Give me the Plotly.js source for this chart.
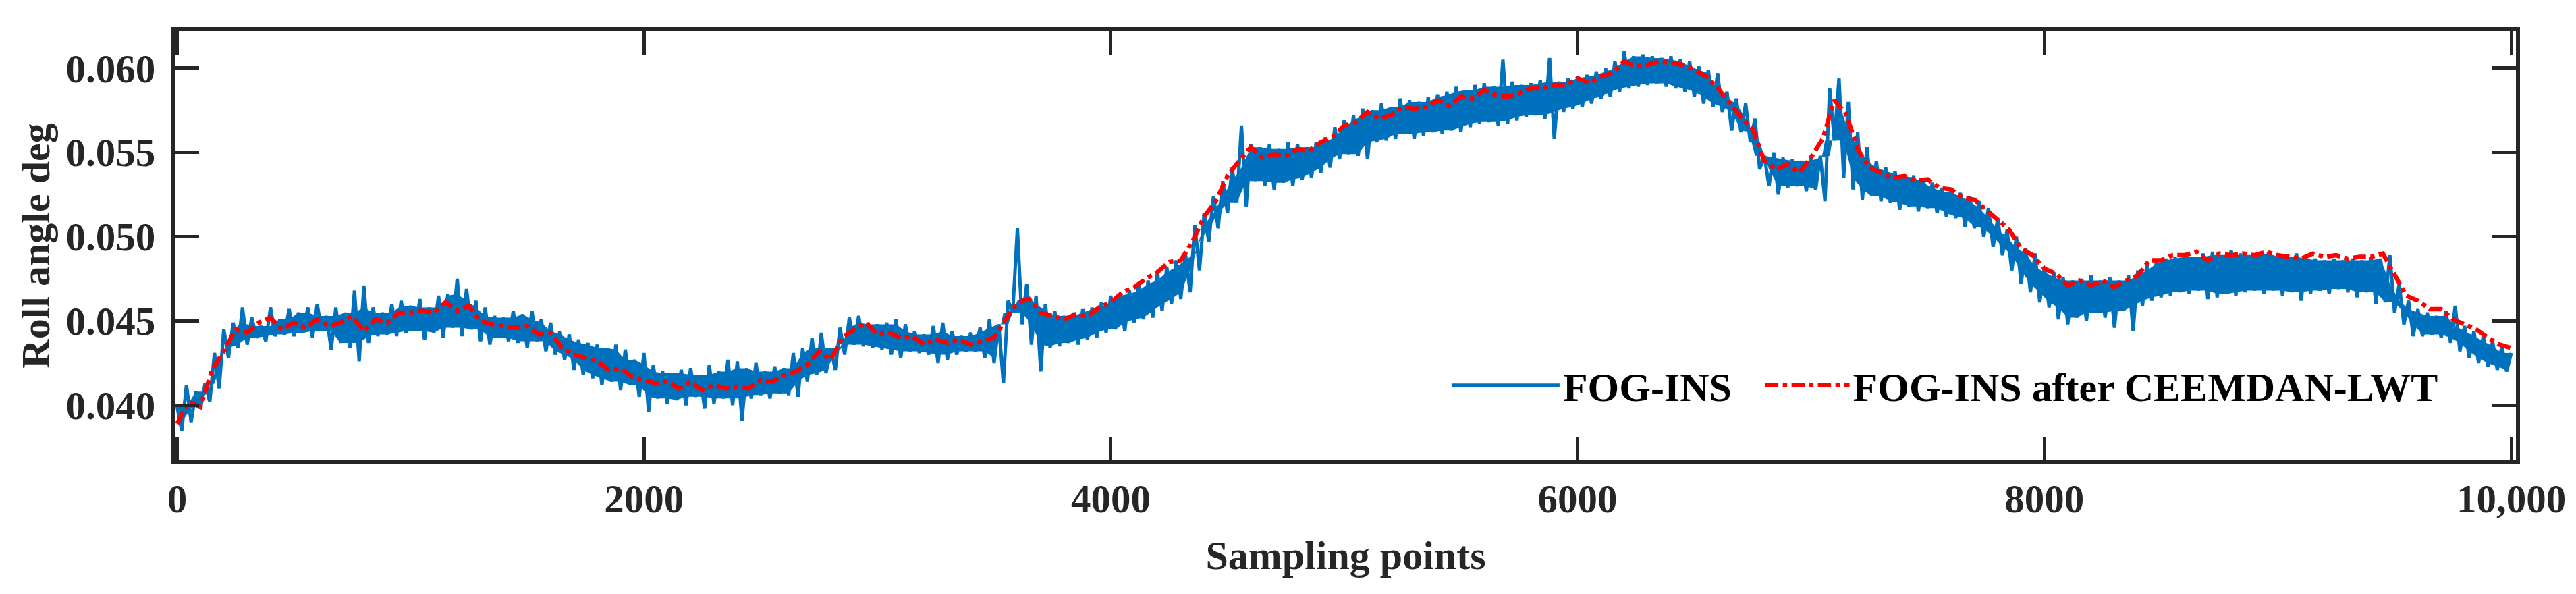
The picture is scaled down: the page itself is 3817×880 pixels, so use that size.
<!DOCTYPE html>
<html>
<head>
<meta charset="utf-8">
<script src="https://cdn.plot.ly/plotly-3.0.1.min.js"></script>
<style>html,body{margin:0;padding:0;background:#fff;}#chart{width:3817px;height:880px;}</style>
</head>
<body>
<div id="chart"></div>
<script>
// Sampling points: blue read every 20 samples (alternating upper/lower noise extremes), red every 50 samples
const blueStep = 20;
const redStep = 50;

// FOG-INS (raw) roll angle, deg
const fogIns = [
.0399,.0385,.0412,.0390,.0408,.0398,.0413,.0402,.0431,.0410,
.0445,.0428,.0449,.0434,.0458,.0436,.0452,.0440,.0447,.0438,
.0458,.0441,.0451,.0442,.0457,.0441,.0455,.0443,.0458,.0440,
.0460,.0444,.0453,.0433,.0458,.0437,.0455,.0434,.0468,.0426,
.0471,.0437,.0458,.0441,.0455,.0442,.0460,.0441,.0462,.0443,
.0459,.0444,.0463,.0439,.0458,.0443,.0465,.0440,.0466,.0446,
.0475,.0441,.0469,.0445,.0462,.0438,.0458,.0436,.0453,.0440,
.0452,.0438,.0456,.0437,.0454,.0434,.0456,.0438,.0451,.0432,
.0449,.0430,.0444,.0427,.0442,.0421,.0439,.0418,.0437,.0416,
.0436,.0412,.0434,.0414,.0436,.0409,.0433,.0412,.0427,.0405,
.0431,.0396,.0424,.0404,.0420,.0401,.0419,.0403,.0421,.0400,
.0422,.0405,.0418,.0398,.0424,.0401,.0420,.0404,.0427,.0400,
.0426,.0391,.0422,.0404,.0425,.0406,.0420,.0404,.0423,.0407,
.0422,.0406,.0431,.0405,.0434,.0414,.0440,.0418,.0443,.0419,
.0434,.0421,.0446,.0430,.0452,.0436,.0453,.0435,.0449,.0434,
.0448,.0433,.0449,.0430,.0451,.0428,.0448,.0432,.0444,.0431,
.0442,.0430,.0447,.0425,.0449,.0427,.0444,.0430,.0441,.0432,
.0443,.0432,.0446,.0428,.0451,.0425,.0448,.0413,.0462,.0455,
.0505,.0448,.0472,.0436,.0465,.0420,.0460,.0434,.0456,.0435,
.0453,.0437,.0455,.0436,.0457,.0439,.0458,.0440,.0461,.0443,
.0465,.0445,.0466,.0444,.0468,.0449,.0472,.0451,.0474,.0452,
.0479,.0456,.0482,.0460,.0486,.0463,.0490,.0467,.0507,.0480,
.0514,.0497,.0524,.0505,.0533,.0514,.0541,.0520,.0566,.0518,
.0555,.0533,.0553,.0530,.0555,.0528,.0552,.0532,.0556,.0530,
.0555,.0534,.0553,.0535,.0556,.0538,.0559,.0541,.0565,.0546,
.0569,.0549,.0572,.0548,.0576,.0546,.0575,.0556,.0579,.0557,
.0577,.0558,.0582,.0561,.0581,.0558,.0580,.0560,.0583,.0562,
.0584,.0561,.0586,.0563,.0589,.0562,.0587,.0565,.0590,.0567,
.0591,.0568,.0589,.0566,.0605,.0567,.0592,.0569,.0590,.0571,
.0591,.0572,.0593,.0570,.0606,.0558,.0592,.0574,.0594,.0576,
.0595,.0577,.0596,.0579,.0598,.0582,.0600,.0583,.0604,.0586,
.0610,.0588,.0607,.0589,.0608,.0590,.0607,.0591,.0606,.0589,
.0607,.0588,.0605,.0586,.0604,.0583,.0601,.0579,.0599,.0577,
.0597,.0574,.0586,.0563,.0582,.0562,.0579,.0556,.0570,.0540,
.0548,.0530,.0550,.0525,.0547,.0529,.0546,.0530,.0545,.0527,
.0547,.0528,.0548,.0521,.0588,.0557,.0594,.0535,.0580,.0528,
.0562,.0522,.0553,.0524,.0545,.0521,.0541,.0520,.0539,.0516,
.0537,.0518,.0536,.0515,.0535,.0517,.0532,.0514,.0529,.0512,
.0527,.0511,.0526,.0506,.0524,.0505,.0521,.0500,.0517,.0494,
.0511,.0489,.0504,.0480,.0500,.0472,.0493,.0467,.0490,.0461,
.0482,.0458,.0479,.0451,.0476,.0448,.0474,.0452,.0475,.0450,
.0477,.0455,.0474,.0452,.0476,.0446,.0474,.0456,.0477,.0444,
.0480,.0459,.0484,.0462,.0486,.0464,.0487,.0465,.0488,.0467,
.0489,.0466,.0488,.0468,.0490,.0463,.0491,.0464,.0489,.0466,
.0492,.0465,.0490,.0467,.0489,.0468,.0490,.0466,.0491,.0468,
.0490,.0465,.0488,.0467,.0490,.0462,.0488,.0466,.0487,.0468,
.0486,.0466,.0487,.0469,.0486,.0467,.0487,.0464,.0486,.0467,
.0488,.0460,.0487,.0461,.0489,.0455,.0472,.0448,.0462,.0441,
.0457,.0441,.0455,.0442,.0453,.0440,.0456,.0437,.0459,.0432,
.0447,.0428,.0444,.0425,.0441,.0423,.0438,.0421,.0435,.0420,
.0431
];

// FOG-INS after CEEMDAN-LWT, deg
const fogInsDenoised = [
.0389,.0402,.0399,.0421,.0432,.0445,.0443,.0449,.0452,.0445,
.0449,.0446,.0451,.0447,.0449,.0453,.0444,.0451,.0449,.0455,
.0455,.0456,.0455,.0461,.0456,.0459,.0450,.0448,.0447,.0446,
.0447,.0442,.0443,.0434,.0430,.0428,.0426,.0421,.0422,.0417,
.0415,.0413,.0414,.0410,.0414,.0409,.0412,.0410,.0411,.0410,
.0415,.0414,.0418,.0420,.0424,.0432,.0427,.0440,.0445,.0449,
.0442,.0443,.0440,.0441,.0436,.0439,.0437,.0439,.0436,.0438,
.0440,.0451,.0461,.0463,.0455,.0453,.0451,.0454,.0453,.0458,
.0461,.0467,.0470,.0475,.0479,.0485,.0486,.0497,.0512,.0521,
.0536,.0545,.0553,.0547,.0549,.0548,.0552,.0551,.0556,.0559,
.0566,.0568,.0574,.0570,.0572,.0577,.0576,.0577,.0581,.0578,
.0583,.0582,.0587,.0584,.0583,.0585,.0588,.0588,.0590,.0590,
.0594,.0591,.0595,.0597,.0604,.0601,.0602,.0604,.0603,.0602,
.0599,.0595,.0588,.0580,.0571,.0564,.0545,.0540,.0543,.0538,
.0547,.0558,.0581,.0573,.0552,.0541,.0538,.0535,.0536,.0533,
.0534,.0529,.0528,.0523,.0522,.0516,.0510,.0504,.0493,.0489,
.0481,.0478,.0471,.0474,.0471,.0474,.0470,.0474,.0477,.0486,
.0486,.0489,.0489,.0491,.0486,.0490,.0489,.0490,.0489,.0491,
.0489,.0488,.0487,.0490,.0488,.0489,.0487,.0488,.0488,.0490,
.0478,.0465,.0462,.0457,.0457,.0451,.0448,.0445,.0440,.0436,
.0434
];

const xTickVals = [0, 2000, 4000, 6000, 8000, 10000];
const xTickText = ['0', '2000', '4000', '6000', '8000', '10,000'];
const yTickVals = [0.040, 0.045, 0.050, 0.055, 0.060];
const yTickText = ['0.040', '0.045', '0.050', '0.055', '0.060'];
const seriesNames = ['FOG-INS', 'FOG-INS after CEEMDAN-LWT'];

const xBlue = fogIns.map((v, i) => i * blueStep);
const xRed = fogInsDenoised.map((v, i) => i * redStep);

// solid core of the raw signal's noise band (drawn under the spiky trace):
// upper edge follows the lowest of neighbouring upper extremes, lower edge the highest of neighbouring lower extremes
const upX = [], upY = [], loX = [], loY = [];
fogIns.forEach((v, i) => { if (i % 2 === 0) { upX.push(xBlue[i]); upY.push(v); } else { loX.push(xBlue[i]); loY.push(v); } });
const coreUp = upY.map((v, j) => Math.min(v, upY[Math.max(j - 1, 0)], upY[Math.min(j + 1, upY.length - 1)]));
const coreLo = loY.map((v, j) => Math.max(v, loY[Math.max(j - 1, 0)], loY[Math.min(j + 1, loY.length - 1)]));
const bandX = upX.concat(loX.slice().reverse());
const bandY = coreUp.concat(coreLo.slice().reverse());

const axisColor = '#262626';
const blue = '#0072BD';
const fontFam = '"Liberation Serif", "Times New Roman", serif';

const traces = [
  {x: bandX, y: bandY, type: 'scatter', mode: 'lines', fill: 'toself', fillcolor: blue,
   line: {width: 0, color: blue}, showlegend: false},
  {x: xBlue, y: fogIns, type: 'scatter', mode: 'lines', name: seriesNames[0],
   line: {color: blue, width: 5}, legend: 'legend'},
  {x: xRed, y: fogInsDenoised, type: 'scatter', mode: 'lines', name: seriesNames[1],
   line: {color: '#FF0000', width: 6.5, dash: 'dashdot'}, legend: 'legend2'}
];

const legendFont = {family: fontFam, size: 60, color: '#000', weight: 'bold'};

const layout = {
  width: 3817, height: 880,
  margin: {l: 260, r: 89, t: 46, b: 198, pad: 0},
  paper_bgcolor: '#fff', plot_bgcolor: '#fff',
  hovermode: false,
  font: {family: fontFam, size: 59, color: axisColor, weight: 'bold'},
  xaxis: {
    range: [-7, 10020], tickvals: xTickVals, ticktext: xTickText,
    ticks: 'inside', ticklen: 35, tickwidth: 5, tickcolor: axisColor,
    showline: true, linewidth: 6, linecolor: axisColor, mirror: 'ticks',
    showgrid: false, zeroline: false,
    tickfont: {family: fontFam, size: 59, color: axisColor, weight: 'bold'},
    title: {text: 'Sampling points', font: {family: fontFam, size: 60, color: axisColor, weight: 'bold'}, standoff: 32}
  },
  yaxis: {
    range: [0.03673, 0.0622], tickvals: yTickVals, ticktext: yTickText,
    ticks: 'inside', ticklen: 35, tickwidth: 5, tickcolor: axisColor,
    showline: true, linewidth: 6, linecolor: axisColor, mirror: 'ticks',
    showgrid: false, zeroline: false, ticklabelstandoff: 12,
    tickfont: {family: fontFam, size: 59, color: axisColor, weight: 'bold'},
    title: {text: 'Roll angle deg', font: {family: fontFam, size: 60, color: axisColor, weight: 'bold'}, standoff: 6}
  },
  legend: {
    x: 0.5438, y: 0.175, xanchor: 'left', yanchor: 'middle',
    bgcolor: 'rgba(0,0,0,0)', borderwidth: 0, itemwidth: 160, font: legendFont
  },
  legend2: {
    x: 0.6778, y: 0.175, xanchor: 'left', yanchor: 'middle',
    bgcolor: 'rgba(0,0,0,0)', borderwidth: 0, itemwidth: 125, font: legendFont
  }
};

Plotly.newPlot('chart', traces, layout, {staticPlot: true, displayModeBar: false});
</script>
</body>
</html>
